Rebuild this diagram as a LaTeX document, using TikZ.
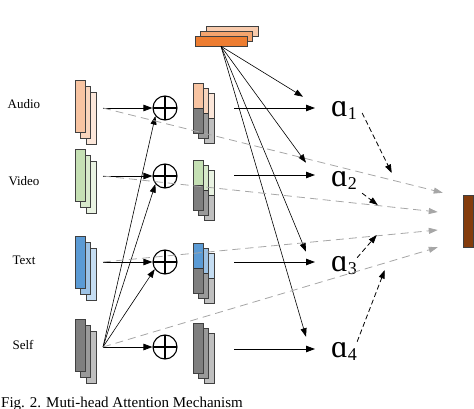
\documentclass[tikz,border=0pt]{standalone}
\usepackage{fontspec}
\setmainfont{Liberation Serif}
\usetikzlibrary{arrows.meta}

\definecolor{audA}{HTML}{F8C4A2}
\definecolor{audB}{HTML}{F9D5BD}
\definecolor{audC}{HTML}{FCE7DA}
\definecolor{vidA}{HTML}{C5E0B4}
\definecolor{vidB}{HTML}{D8EACC}
\definecolor{vidC}{HTML}{E9F3E2}
\definecolor{txtA}{HTML}{5B9BD5}
\definecolor{txtB}{HTML}{9DC3E6}
\definecolor{txtC}{HTML}{C5DDF2}
\definecolor{slfA}{HTML}{7F7F7F}
\definecolor{slfB}{HTML}{9A9A9A}
\definecolor{slfC}{HTML}{BFBFBF}
\definecolor{orgA}{HTML}{ED7D31}
\definecolor{orgB}{HTML}{F4A46E}
\definecolor{orgC}{HTML}{F8CBAD}
\definecolor{brownout}{HTML}{843C0C}
\definecolor{dashgray}{HTML}{A6A6A6}

\newcommand{\alp}[1]{{\fontsize{32}{32}\selectfont ɑ}\raisebox{-3pt}{\fontsize{18}{18}\selectfont #1}}

\begin{document}
\begin{tikzpicture}[x=1pt, y=-1pt,
    blk/.style={rectangle, draw=black!75, line width=0.5pt, minimum width=10pt, minimum height=52pt, inner sep=0pt},
    midblk/.style 2 args={blk, minimum height=50pt, fill=#2, path picture={
        \fill[#1] (path picture bounding box.north west) rectangle (path picture bounding box.east);
        \draw[black!80, line width=0.6pt] (path picture bounding box.west) -- (path picture bounding box.east);}},
    plus/.style={circle, draw, line width=1.1pt, minimum size=24pt, inner sep=0pt, path picture={
        \draw[line width=1.1pt] (path picture bounding box.north) -- (path picture bounding box.south)
            (path picture bounding box.west) -- (path picture bounding box.east);}},
    lbl/.style={font=\fontsize{13}{15}\selectfont, inner sep=0pt},
    al/.style={anchor=base west, inner sep=0pt},
    arr/.style={-{Triangle[length=9pt, width=6.5pt]}, line width=0.8pt},
    thinarr/.style={-{Triangle[length=8.5pt, width=6pt]}, line width=0.6pt},
    grayarr/.style={-{Triangle[length=9pt, width=6pt]}, dashgray, line width=0.8pt, dash pattern=on 8pt off 5pt},
    wtarr/.style={-{Triangle[length=8.5pt, width=6pt]}, line width=0.8pt, dash pattern=on 5pt off 3pt}
]
\useasboundingbox (0,0) rectangle (474,409);

% labels
\node[lbl] (lab-audio) at (24,104) {Audio};
\node[lbl] (lab-video) at (24,181) {Video};
\node[lbl] (lab-text) at (24,260) {Text};
\node[lbl] (lab-self) at (23,345) {Self};

% input stacks
\node[blk, fill=audC] (audio3) at (91,118) {};
\node[blk, fill=audB] (audio2) at (85.5,112) {};
\node[blk, fill=audA] (audio1) at (80,106) {};

\node[blk, fill=vidC] (video3) at (91,187) {};
\node[blk, fill=vidB] (video2) at (85.5,181) {};
\node[blk, fill=vidA] (video1) at (80,175) {};

\node[blk, fill=txtC] (text3) at (91,274) {};
\node[blk, fill=txtB] (text2) at (85.5,268) {};
\node[blk, fill=txtA] (text1) at (80,262) {};

\node[blk, fill=slfC] (self3) at (91,357) {};
\node[blk, fill=slfB] (self2) at (85.5,351) {};
\node[blk, fill=slfA] (self1) at (80,345) {};

\coordinate (s-audio) at (103,108);
\coordinate (s-video) at (103,176);
\coordinate (s-text) at (103,262);
\coordinate (s-self) at (103,347);

% sum
\node[plus] (p-audio) at (165,108) {};
\node[plus] (p-video) at (165,176) {};
\node[plus] (p-text) at (165,262) {};
\node[plus] (p-self) at (165,347) {};

\draw[arr] (s-audio) -- (p-audio.west);
\draw[arr] (s-video) -- (p-video.west);
\draw[arr] (s-text) -- (p-text.west);
\draw[arr] (s-self) -- (p-self.west);

\draw[thinarr] (s-self) -- (p-audio.-140);
\draw[thinarr] (s-self) -- (p-video.-140);
\draw[thinarr] (s-self) -- (p-text.-145);

% concatenated stacks
\node[midblk={audC}{slfC}] (m-audio3) at (209,118) {};
\node[midblk={audB}{slfB}] (m-audio2) at (203.5,113.5) {};
\node[midblk={audA}{slfA}] (m-audio1) at (198,108) {};

\node[midblk={vidC}{slfC}] (m-video3) at (209,195) {};
\node[midblk={vidB}{slfB}] (m-video2) at (203.5,190.5) {};
\node[midblk={vidA}{slfA}] (m-video1) at (198,185) {};

\node[midblk={txtC}{slfC}] (m-text3) at (209,278) {};
\node[midblk={txtB}{slfB}] (m-text2) at (203.5,273.5) {};
\node[midblk={txtA}{slfA}] (m-text1) at (198,268) {};

\node[blk, minimum height=50pt, fill=slfC] (m-self3) at (209,358) {};
\node[blk, minimum height=50pt, fill=slfB] (m-self2) at (203.5,353.5) {};
\node[blk, minimum height=50pt, fill=slfA] (m-self1) at (198,348) {};

% query
\node[blk, minimum width=52pt, minimum height=10pt, fill=orgC] (q3) at (232.5,31) {};
\node[blk, minimum width=52pt, minimum height=10pt, fill=orgB] (q2) at (226.5,36) {};
\node[blk, minimum width=52pt, minimum height=10pt, fill=orgA] (q1) at (221,41) {};

% weights
\node[al] (al1) at (331,117) {\alp{1}};
\node[al] (al2) at (331,186) {\alp{2}};
\node[al] (al3) at (331,271) {\alp{3}};
\node[al] (al4) at (331,357) {\alp{4}};

\coordinate (o-audio) at (234,108);
\coordinate (o-video) at (234,175);
\coordinate (o-text) at (234,262);
\coordinate (o-self) at (234,349);

\draw[arr] (o-audio) -- ([xshift=-16pt]o-audio -| al1.west);
\draw[arr] (o-video) -- ([xshift=-16pt]o-video -| al2.west);
\draw[arr] (o-text) -- ([xshift=-16pt]o-text -| al3.west);
\draw[arr] (o-self) -- ([xshift=-16pt]o-self -| al4.west);

\draw[thinarr] (q1.south) -- ([shift={(-28,-5)}]al1.north west);
\draw[thinarr] (q1.south) -- ([shift={(-25,-8)}]al2.north west);
\draw[thinarr] (q1.south) -- ([shift={(-25,-4)}]al3.north west);
\draw[thinarr] (q1.south) -- ([shift={(-25,-5)}]al4.north west);

% output
\node[blk, fill=brownout, minimum height=52pt] (out) at (468,221) {};

\draw[grayarr] (s-audio) -- ([shift={(-20,-2)}]out.north west);
\draw[grayarr] (s-video) -- ([shift={(-25,-9)}]out.west);
\draw[grayarr] (s-text) -- ([shift={(-25,9)}]out.west);
\draw[grayarr] (s-self) -- ([xshift=-25pt]out.south west);

\draw[wtarr] ([shift={(5,2)}]al1.east) -- ([shift={(-71,-48)}]out.west);
\draw[wtarr] ([shift={(5,4)}]al2.south east) -- ([shift={(-85,-16)}]out.west);
\draw[wtarr] ([shift={(0,2)}]al3.north east) -- ([shift={(-86,14)}]out.west);
\draw[wtarr] (al4.north east) -- ([shift={(-78,49)}]out.west);

\node[anchor=base west, inner sep=0pt, font=\fontsize{15}{17}\selectfont] (cap) at (1,407) {Fig. 2. Muti-head Attention Mechanism};

\end{tikzpicture}
\end{document}
